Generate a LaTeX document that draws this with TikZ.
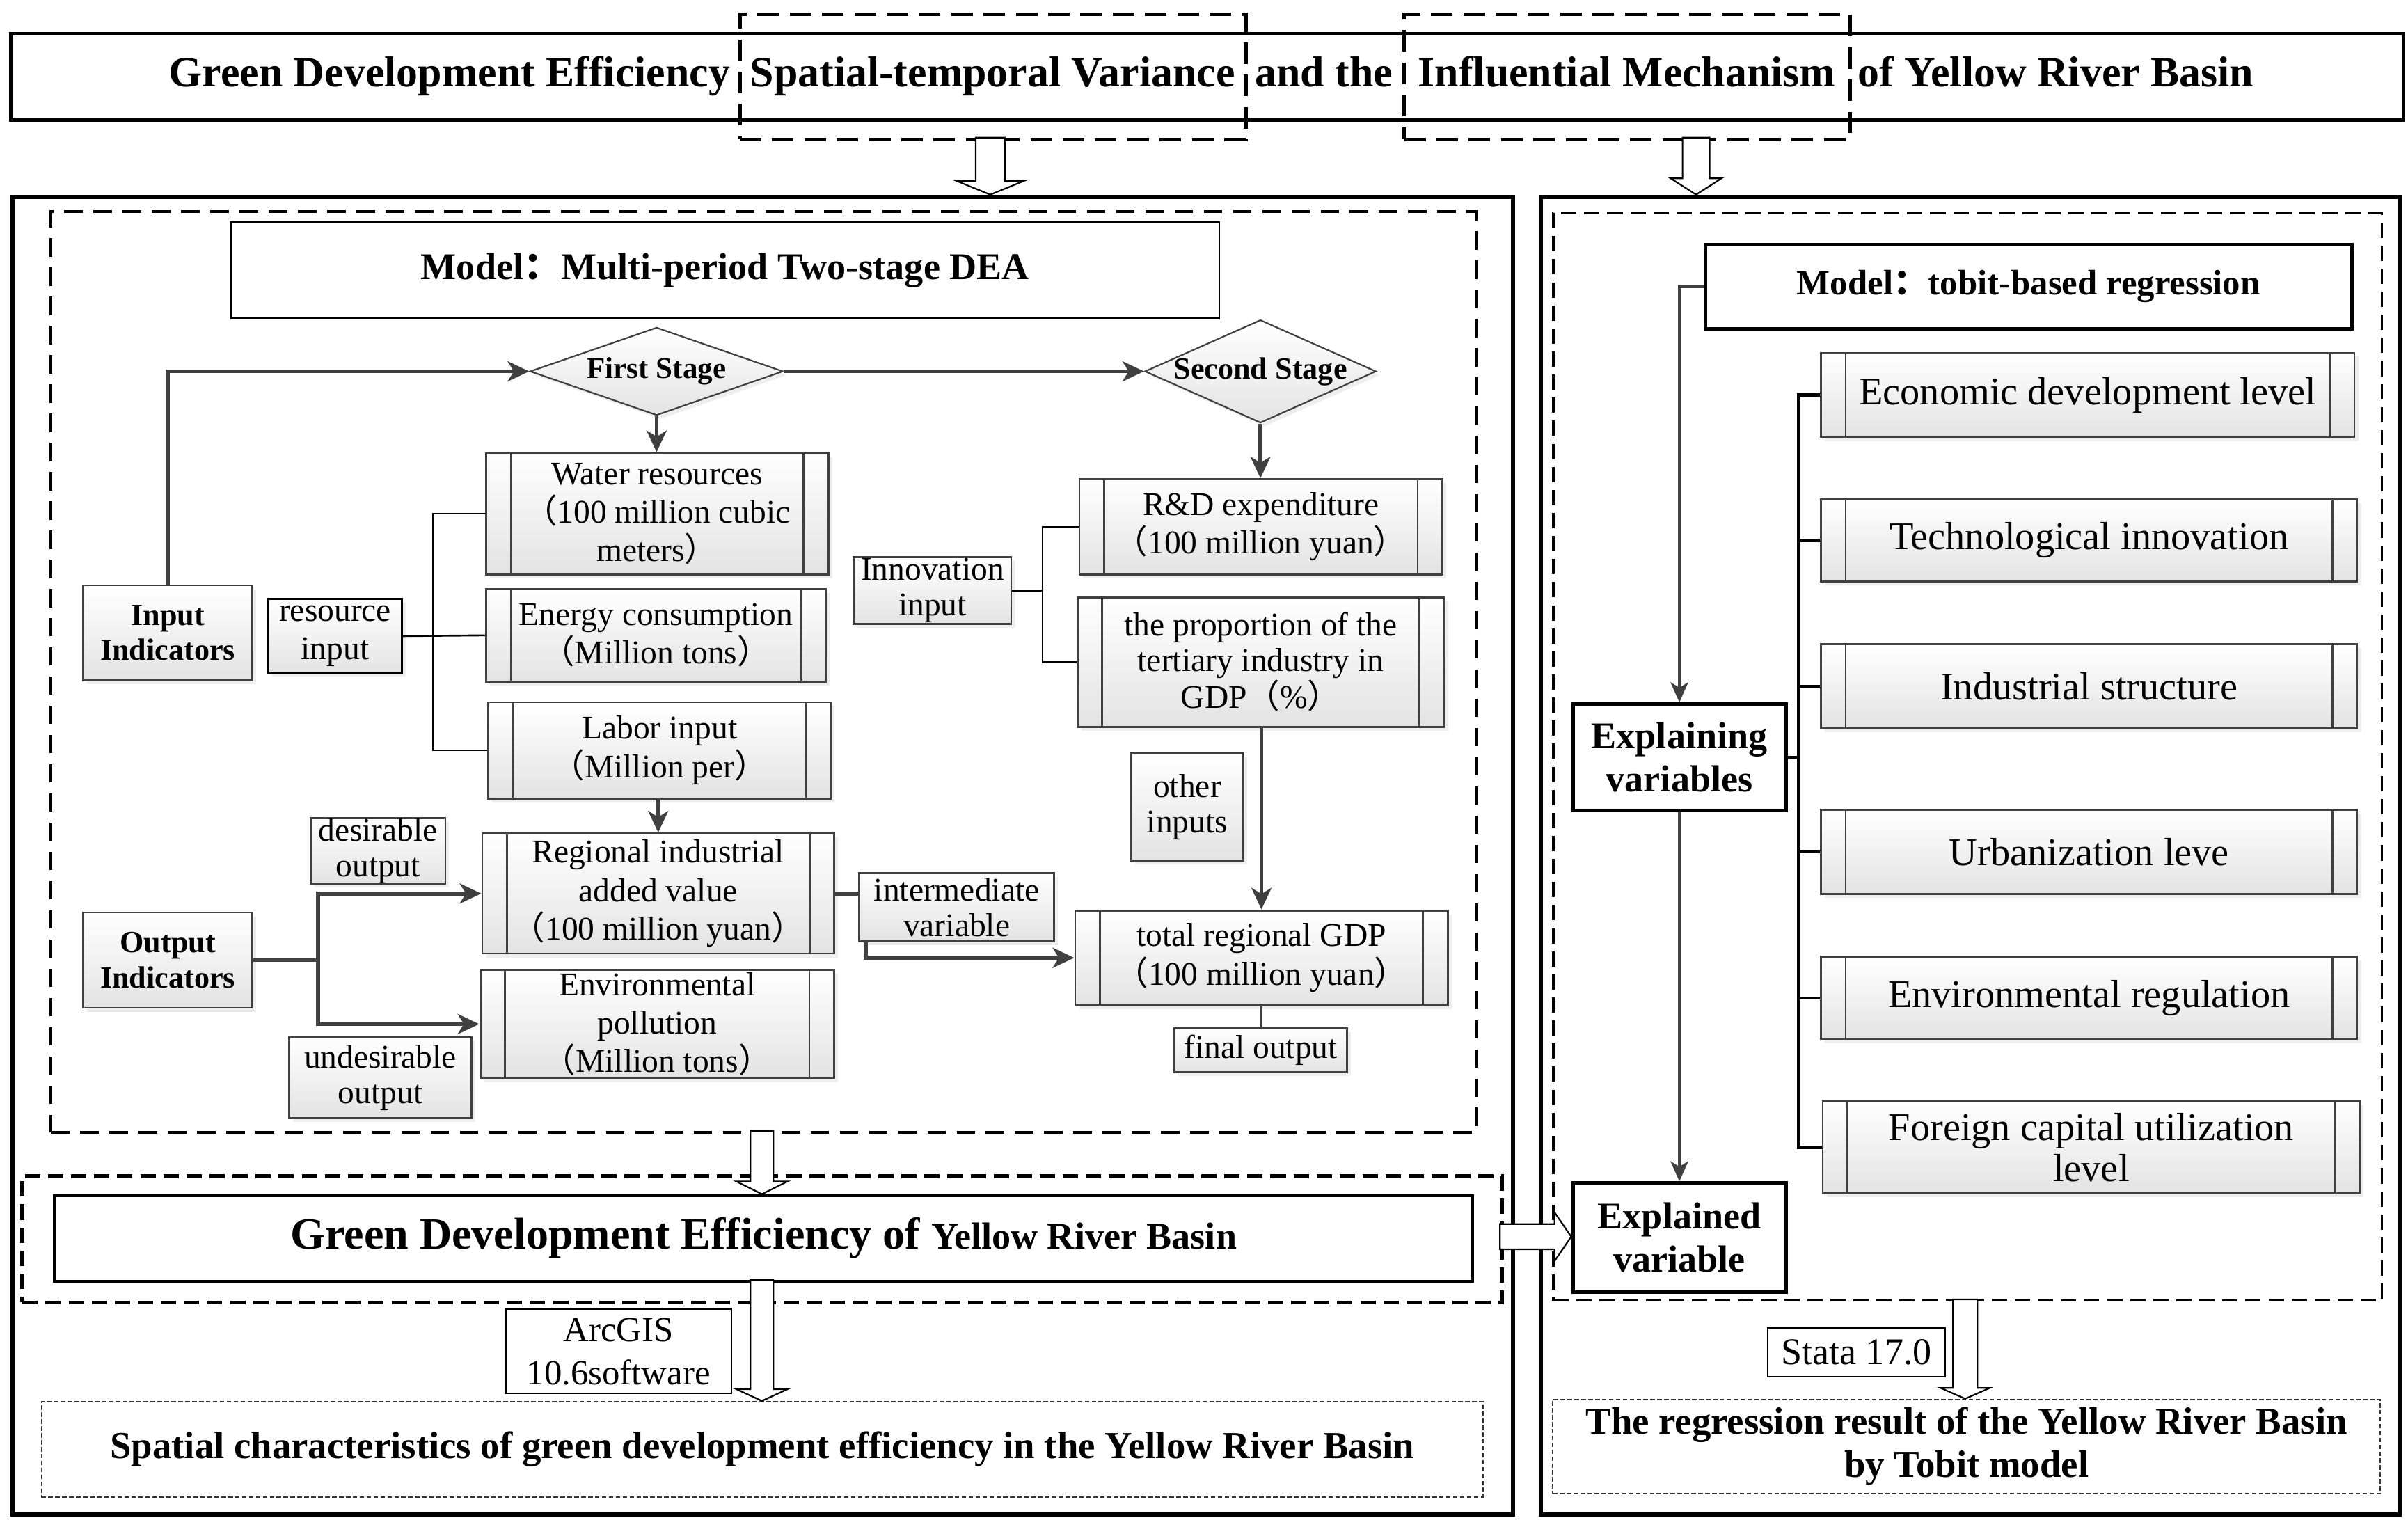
\documentclass[tikz,border=0pt]{standalone}
\usepackage{fontspec}
\setmainfont{Liberation Serif}
\newfontfamily\cjk{Noto Sans CJK SC}
\usetikzlibrary{shapes.geometric,arrows.meta,shadows}
\definecolor{bgray}{HTML}{404040}
\newcommand{\LPa}{{\cjk （}}
\newcommand{\RPa}{{\cjk ）}}
\newcommand{\FCo}{{\cjk ：}}
\newcommand{\HollowDown}[6]{\draw[hollow] ({#1-#2},#4) -- ({#1-#2},#5) -- ({#1-#3},#5) -- (#1,#6) -- ({#1+#3},#5) -- ({#1+#2},#5) -- ({#1+#2},#4) -- cycle;}
\tikzset{
 gt/.style={top color=white, bottom color=black!11},
 shad/.style={drop shadow={shadow xshift=2.5pt, shadow yshift=-2.5pt, fill=black!9, opacity=0.7}},
 pb/.style={draw=bgray, line width=1.3pt, gt, shad, inner sep=0pt, align=center, anchor=north west},
 pp/.style={pb, path picture={\draw[bgray,line width=1.2pt]
   ([xshift=16pt]path picture bounding box.north west) -- ([xshift=16pt]path picture bounding box.south west)
   ([xshift=-16pt]path picture bounding box.north east) -- ([xshift=-16pt]path picture bounding box.south east);}},
 wb/.style={draw=black, line width=1pt, fill=white, inner sep=0pt, align=center, anchor=north west},
 bb/.style={draw=black, line width=2.2pt, fill=white, inner sep=0pt, align=center, anchor=north west},
 fr/.style={font=\fontsize{21.5}{25}\selectfont},
 frs/.style={font=\fontsize{21.5}{23}\selectfont},
 fR/.style={font=\fontsize{25.5}{27}\selectfont},
 fb/.style={font=\bfseries\fontsize{20}{23}\selectfont},
 fB/.style={font=\bfseries\fontsize{24.5}{28}\selectfont},
 tt/.style={font=\bfseries\fontsize{28}{32}\selectfont, inner sep=0pt},
 ar/.style={draw=bgray, line width=2.6pt, -{Stealth[length=14pt,width=13pt,inset=4pt]}},
 arg/.style={draw=bgray, line width=1.8pt, -{Stealth[length=13pt,width=11.5pt,inset=3.5pt]}},
 ln/.style={draw=black, line width=1.2pt},
 lnb/.style={draw=black, line width=2pt},
 lng/.style={draw=bgray, line width=2.6pt},
 hollow/.style={draw=black, line width=1pt, fill=white, line join=miter},
 tdash/.style={draw=black, line width=2.3pt, dash pattern=on 14pt off 7pt},
 deadash/.style={draw=black, line width=1.6pt, dash pattern=on 12pt off 7pt},
 gdedash/.style={draw=black, line width=2.6pt, dash pattern=on 10pt off 5pt},
 rdash/.style={draw=black, line width=1.5pt, dash pattern=on 10pt off 5pt},
 fdash/.style={draw=black!80, line width=0.8pt, dash pattern=on 3pt off 1.5pt},
 dia/.style={diamond, draw=bgray, line width=1pt, gt, shad, inner sep=0pt},
}
\begin{document}
\begin{tikzpicture}[x=1pt,y=-1pt]
\useasboundingbox (0,0) rectangle (1566,992.6);
\fill[white] (0,0) rectangle (1566,992.6);

% ---------- title ----------
\node[draw=black, line width=2.2pt, minimum width=1556pt, minimum height=56pt, anchor=north west] (title) at (6,20.8) {};
\node[tdash, minimum width=329pt, minimum height=81.5pt, anchor=north west] (td1) at (480,8) {};
\node[tdash, minimum width=290pt, minimum height=81.5pt, anchor=north west] (td2) at (912,8) {};
\node[tt, anchor=base east] (t1) at (475,56.3) {Green Development Efficiency};
\node[tt, anchor=base] (t2) at (645.5,56.3) {Spatial-temporal Variance};
\node[tt, anchor=base] (t3) at (861,56.3) {and the};
\node[tt, anchor=base] (t4) at (1058,56.3) {Influential Mechanism};
\node[tt, anchor=base west] (t5) at (1208,56.3) {of Yellow River Basin};

% ---------- panels ----------
\node[draw=black, line width=2.8pt, minimum width=976pt, minimum height=857pt, anchor=north west] (lp) at (6.6,126.6) {};
\node[draw=black, line width=2.8pt, minimum width=558.6pt, minimum height=857pt, anchor=north west] (rp) at (1000.7,126.6) {};

% ---------- left: DEA ----------
\node[deadash, minimum width=927pt, minimum height=598.7pt, anchor=north west] (dea) at (32.3,136.8) {};
\node[draw=black, line width=1.2pt, fill=white, minimum width=642.7pt, minimum height=62.8pt, anchor=north west, font=\bfseries\fontsize{24.5}{28}\selectfont] (mdea) at (149.6,143.8) {Model\FCo Multi-period Two-stage DEA};

\node[dia, minimum width=164.6pt, minimum height=57.2pt, label={[font=\bfseries\fontsize{19.5}{22}\selectfont]center:First Stage}] (first) at (427,241.5) {};
\node[dia, minimum width=150.4pt, minimum height=67pt, label={[font=\bfseries\fontsize{20}{22}\selectfont]center:Second Stage}] (second) at (819.7,241.5) {};

\node[pb, fb, minimum width=110pt, minimum height=61.7pt] (inind) at (53.5,380) {Input\\Indicators};
\node[pb, draw=black, fr, minimum width=87pt, minimum height=48pt] (res) at (173.8,389) {resource\\input};
\node[pp, fr, minimum width=222.5pt, minimum height=78.8pt] (water) at (315.5,294) {Water resources\\\LPa 100 million cubic\\meters\RPa};
\node[pp, fr, minimum width=221pt, minimum height=60pt] (energy) at (315.5,382.5) {Energy consumption\\\LPa Million tons\RPa};
\node[pp, fr, minimum width=222.8pt, minimum height=62.6pt] (labor) at (316.9,456) {Labor input\\\LPa Million per\RPa};
\node[pp, fr, minimum width=228.8pt, minimum height=78pt] (regional) at (313,541.4) {Regional industrial\\added value\\\LPa 100 million yuan\RPa};
\node[pp, fr, minimum width=230pt, minimum height=70.6pt] (envp) at (311.7,630) {Environmental\\pollution\\\LPa Million tons\RPa};
\node[pb, fb, minimum width=110pt, minimum height=62pt] (outind) at (53.5,592.7) {Output\\Indicators};
\node[pb, frs, minimum width=87.6pt, minimum height=42.6pt] (des) at (201.4,531.4) {desirable\\output};
\node[pb, frs, minimum width=118.6pt, minimum height=52.7pt] (undes) at (187.4,673.7) {undesirable\\output};
\node[pb, frs, minimum width=127pt, minimum height=44.5pt] (inter) at (558,567) {intermediate\\variable};
\node[pp, fr, minimum width=242.2pt, minimum height=61.6pt] (gdp) at (698.6,591.4) {total regional GDP\\\LPa 100 million yuan\RPa};
\node[pb, frs, minimum width=73pt, minimum height=70pt] (other) at (735,489) {other\\inputs};
\node[pb, frs, minimum width=112.5pt, minimum height=28.6pt] (final) at (763,668) {final output};
\node[pp, fr, minimum width=236pt, minimum height=61.8pt] (rd) at (701.3,311) {R\&D expenditure\\\LPa 100 million yuan\RPa};
\node[pp, frs, minimum width=238.5pt, minimum height=84pt] (tert) at (700,388) {the proportion of the\\tertiary industry in\\GDP\LPa \%\RPa};
\node[pb, frs, minimum width=102.4pt, minimum height=43.7pt] (innov) at (554.6,361.6) {Innovation\\input};

% connectors left
\draw[ar] (inind.north) |- (first.west);
\draw[ar] (first.east) -- (second.west);
\draw[ar] (first.south) -- (first.south |- water.north);
\draw[ln] (res.east) -- (energy.west);
\coordinate (jl) at (281.7,0);
\draw[ln] (water.west) -- (water.west -| jl) -- (labor.west -| jl) -- (labor.west);
\draw[ar] (labor.south -| regional.north) -- (regional.north);
\coordinate (jo) at (206.8,0);
\draw[lng] (outind.east) -- (outind.east -| jo);
\draw[ar] (outind.east -| jo) |- (regional.west);
\draw[ar] (outind.east -| jo) |- (envp.west);
\draw[lng, line cap=round] (regional.east) -- (regional.east -| inter.west);
\draw[ar] ([xshift=5pt]inter.south west) |- (gdp.west);
\draw[ar] (second.south) -- (second.south |- rd.north);
\coordinate (ji) at (678,0);
\draw[ln] (innov.east) -- (innov.east -| ji);
\draw[ln] (rd.west) -- (rd.west -| ji) -- (tert.west -| ji) -- (tert.west);
\draw[ar] (tert.south -| gdp.north) -- (gdp.north);
\draw[draw=bgray, line width=1pt] (gdp.south) -- (gdp.south |- final.north);

% ---------- left bottom ----------
\node[gdedash, minimum width=962.2pt, minimum height=82.2pt, anchor=north west] (gdeo) at (13.3,763.5) {};
\node[draw=black, line width=1.8pt, fill=white, minimum width=922.5pt, minimum height=55.8pt, anchor=north west, inner sep=0pt] (gde) at (34.5,776.5) {\bfseries{\fontsize{29}{34}\selectfont Green Development Efficiency of }{\fontsize{24.5}{30}\selectfont Yellow River Basin}};
\node[wb, font=\fontsize{23}{28}\selectfont, minimum width=146.5pt, minimum height=54.6pt] (arc) at (328.5,851) {ArcGIS\\10.6software};
\node[fdash, fill=white, minimum width=937.5pt, minimum height=62pt, anchor=north west, inner sep=0pt, font=\bfseries\fontsize{24.8}{28}\selectfont] (spat) at (26.5,911) {Spatial characteristics of green development efficiency in the Yellow River Basin};

% ---------- right ----------
\node[rdash, minimum width=538.9pt, minimum height=707.2pt, anchor=north west] (rdb) at (1009.5,137.8) {};
\node[bb, font=\bfseries\fontsize{23}{26}\selectfont, minimum width=420.4pt, minimum height=54.9pt] (tobit) at (1107.9,157.8) {Model\FCo tobit-based regression};
\node[pp, fR, minimum width=346.9pt, minimum height=54.8pt] (econ) at (1183.6,228.8) {Economic development level};
\node[pp, fR, minimum width=348.7pt, minimum height=53.6pt] (tech) at (1183.6,324) {Technological innovation};
\node[pp, fR, minimum width=348.7pt, minimum height=54.6pt] (indu) at (1183.6,418.4) {Industrial structure};
\node[pp, fR, minimum width=348.7pt, minimum height=54.8pt] (urban) at (1183.6,526) {Urbanization leve};
\node[pp, fR, minimum width=348.7pt, minimum height=53.7pt] (envr) at (1183.6,621.4) {Environmental regulation};
\node[pp, fR, minimum width=349.3pt, minimum height=59.9pt] (forg) at (1184.7,715.6) {Foreign capital utilization\\level};
\node[bb, fB, minimum width=138.5pt, minimum height=69.5pt] (expl) at (1021.8,456.7) {Explaining\\variables};
\node[bb, fB, minimum width=138.5pt, minimum height=71pt] (expd) at (1021.8,768.2) {Explained\\variable};
\node[wb, font=\fontsize{24.5}{28}\selectfont, minimum width=115.5pt, minimum height=31.9pt] (stata) at (1149,862.9) {Stata 17.0};
\node[fdash, fill=white, minimum width=538pt, minimum height=61.4pt, anchor=north west, inner sep=0pt, align=center, font=\bfseries\fontsize{24.8}{28}\selectfont] (regr) at (1009.5,909.6) {The regression result of the Yellow River Basin\\by Tobit model};

\draw[arg] (tobit.west) -| (expl.north);
\draw[arg] (expl.south) -- (expd.north);
\coordinate (bar) at (1169.5,0);
\draw[lnb] (econ.west) -- (econ.west -| bar) -- (forg.west -| bar) -- (forg.west);
\draw[lnb] (tech.west) -- (tech.west -| bar);
\draw[lnb] (indu.west) -- (indu.west -| bar);
\draw[lnb] (urban.west) -- (urban.west -| bar);
\draw[lnb] (envr.west) -- (envr.west -| bar);
\draw[lnb] (expl.east) -- (expl.east -| bar);

% ---------- hollow arrows ----------
\HollowDown{644}{9.5}{21.5}{89.5}{117.8}{126.6}
\HollowDown{1103}{8.8}{16.5}{89.5}{116}{126.6}
\HollowDown{495.5}{7.5}{16.6}{735.5}{768.3}{776.5}
\HollowDown{495.5}{7.5}{16.6}{832.3}{903.4}{911}
\HollowDown{1278}{7.9}{16}{845}{902.6}{909.6}
\draw[hollow] (975.5,796) -- (1011,796) -- (1011,788.4) -- (1021.8,804.2) -- (1011,820) -- (1011,812.4) -- (975.5,812.4) -- cycle;
\end{tikzpicture}
\end{document}
